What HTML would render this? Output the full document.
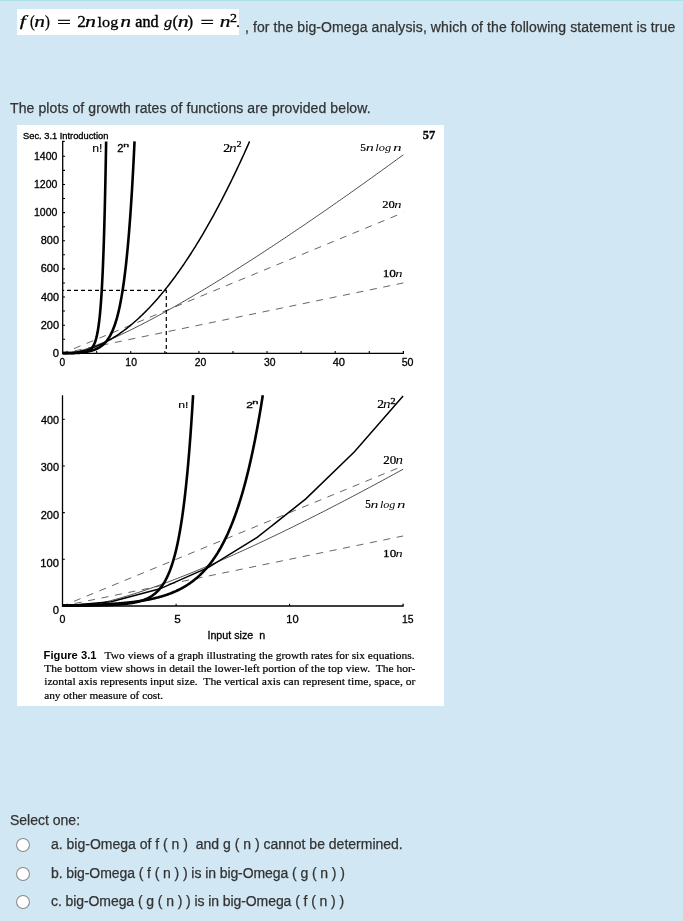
<!DOCTYPE html>
<html><head><meta charset="utf-8"><style>
html,body{margin:0;padding:0}
body{width:683px;height:921px;position:relative;overflow:hidden;background:#d1e7f3;font-family:"Liberation Sans",sans-serif;font-size:14px;color:#333}
.topb{position:absolute;left:0;top:0;width:683px;height:1px;background:#ade1ea}
.t{position:absolute;white-space:pre;line-height:16px;-webkit-text-stroke:0.25px #333;will-change:transform}
.mbox{position:absolute;left:17px;top:9px;width:222px;height:25.5px;background:#fff}
.msvg{position:absolute;left:0;top:0;will-change:transform}
.msvg text{font-family:"Liberation Serif",serif;fill:#000;stroke:#000;stroke-width:0.3px}
.msvg .mi{font-style:italic;stroke-width:0.25px}
.msvg .mb{stroke:#000;stroke-width:0.45px}
.fig{position:absolute;left:17px;top:125px;width:427px;height:581px;background:#fff;will-change:transform}
.fig svg{position:absolute;left:0;top:0}
.dsh{fill:none;stroke:#555;stroke-width:0.9;stroke-dasharray:7.1 6.6;stroke-dashoffset:1.4}
.thin{fill:none;stroke:#333;stroke-width:0.9}
.med{fill:none;stroke:#000;stroke-width:1.5}
.thick{fill:none;stroke:#000;stroke-width:2.6}
.ax{fill:none;stroke:#000;stroke-width:1.3}
.tk{fill:none;stroke:#000;stroke-width:1.05}
.guide{fill:none;stroke:#000;stroke-width:1.2;stroke-dasharray:4 3}
.fig text{fill:#000}
.lb{font-family:"Liberation Sans",sans-serif;stroke:#000;stroke-width:0.3px}
.lt{stroke-width:0.12px}
.pg{font-family:"Liberation Serif",serif;font-weight:bold;stroke:#000;stroke-width:0.35px}
.ml{font-family:"Liberation Serif",serif;stroke:#000;stroke-width:0.25px}
.mi{font-style:italic;stroke-width:0}
.fg{font-family:"Liberation Sans",sans-serif;font-weight:bold}
.cap{font-family:"Liberation Serif",serif;font-size:10.8px;stroke:#000;stroke-width:0.2px}
.rad{position:absolute;left:0;top:832px}
.rad circle{fill:#fff;stroke:#8a8a8a;stroke-width:1.05}
</style></head><body>
<div class="topb"></div>
<div class="mbox"></div>
<svg class="msvg" width="260" height="40">
<text transform="translate(19.68 26.47) scale(1.449 1)" style="font-size:14.89px" class="mi">f</text>
<text transform="translate(30.03 27.11) scale(0.811 1)" style="font-size:17.56px" class="mr">(</text>
<text transform="translate(34.34 27.00) scale(1.361 1)" style="font-size:15.74px" class="mi">n</text>
<text transform="translate(44.96 27.11) scale(0.833 1)" style="font-size:17.56px" class="mr">)</text>
<text transform="translate(56.96 28.44) scale(1.518 1)" style="font-size:16.40px" class="mr">=</text>
<text transform="translate(77.31 27.00) scale(1.010 1)" style="font-size:17.08px" class="mr">2</text>
<text transform="translate(84.92 27.00) scale(1.391 1)" style="font-size:15.74px" class="mi">n</text>
<text transform="translate(97.58 26.56) scale(1.050 1)" style="font-size:15.44px" class="mr">log</text>
<text transform="translate(120.13 27.00) scale(1.376 1)" style="font-size:15.74px" class="mi">n</text>
<text transform="translate(135.26 26.84) scale(0.977 1)" style="font-size:16.43px" class="mr mb">and</text>
<text transform="translate(164.00 26.62) scale(1.082 1)" style="font-size:15.15px" class="mi">g</text>
<text transform="translate(172.42 27.11) scale(0.964 1)" style="font-size:17.56px" class="mr">(</text>
<text transform="translate(177.72 27.00) scale(1.391 1)" style="font-size:15.74px" class="mi">n</text>
<text transform="translate(187.59 27.11) scale(0.964 1)" style="font-size:17.56px" class="mr">)</text>
<text transform="translate(200.50 28.44) scale(1.466 1)" style="font-size:16.40px" class="mr">=</text>
<text transform="translate(219.74 27.00) scale(1.325 1)" style="font-size:16.17px" class="mi">n</text>
<text transform="translate(229.94 21.80) scale(1.182 1)" style="font-size:11.85px" class="mr">2</text>
<text transform="translate(236.28 26.86) scale(1.027 1)" style="font-size:14.17px" class="mr">.</text>
</svg>
<div class="t" style="left:245px;top:19px;letter-spacing:0.1px">, for the big-Omega analysis, which of the following statement is true</div>
<div class="t" style="left:10px;top:100px;letter-spacing:0.1px">The plots of growth rates of functions are provided below.</div>
<div class="fig"><svg width="427" height="581" viewBox="17 125 427 581">
<path d="M62.6 353.3 L232.97 282.95 L403.35 212.6" class="dsh"/>
<path d="M62.6 353.3 L232.97 318.12 L403.35 282.95" class="dsh"/>
<path d="M69.42 353.3 L71.08 353.02 L72.75 352.7 L74.42 352.33 L76.09 351.93 L77.76 351.49 L79.43 351.03 L81.1 350.55 L82.77 350.04 L84.44 349.51 L86.11 348.96 L87.78 348.4 L89.45 347.82 L91.12 347.22 L92.79 346.61 L94.46 345.98 L96.13 345.34 L97.8 344.69 L99.47 344.03 L101.14 343.36 L102.81 342.67 L104.48 341.98 L106.15 341.27 L107.82 340.56 L109.49 339.83 L111.16 339.1 L112.83 338.36 L114.5 337.61 L116.17 336.85 L117.84 336.09 L119.51 335.31 L121.17 334.53 L122.84 333.75 L124.51 332.95 L126.18 332.15 L127.85 331.35 L129.52 330.53 L131.19 329.71 L132.86 328.89 L134.53 328.05 L136.2 327.22 L137.87 326.37 L139.54 325.53 L141.21 324.67 L142.88 323.81 L144.55 322.95 L146.22 322.08 L147.89 321.2 L149.56 320.32 L151.23 319.44 L152.9 318.55 L154.57 317.66 L156.24 316.76 L157.91 315.86 L159.58 314.95 L161.25 314.04 L162.92 313.12 L164.59 312.2 L166.26 311.28 L167.93 310.35 L169.6 309.42 L171.27 308.49 L172.93 307.55 L174.6 306.6 L176.27 305.66 L177.94 304.71 L179.61 303.75 L181.28 302.8 L182.95 301.84 L184.62 300.87 L186.29 299.9 L187.96 298.93 L189.63 297.96 L191.3 296.98 L192.97 296 L194.64 295.02 L196.31 294.03 L197.98 293.04 L199.65 292.04 L201.32 291.05 L202.99 290.05 L204.66 289.05 L206.33 288.04 L208 287.03 L209.67 286.02 L211.34 285.01 L213.01 283.99 L214.68 282.97 L216.35 281.95 L218.02 280.92 L219.69 279.9 L221.36 278.87 L223.03 277.83 L224.69 276.8 L226.36 275.76 L228.03 274.72 L229.7 273.68 L231.37 272.63 L233.04 271.58 L234.71 270.53 L236.38 269.48 L238.05 268.43 L239.72 267.37 L241.39 266.31 L243.06 265.25 L244.73 264.18 L246.4 263.11 L248.07 262.05 L249.74 260.97 L251.41 259.9 L253.08 258.82 L254.75 257.75 L256.42 256.67 L258.09 255.58 L259.76 254.5 L261.43 253.41 L263.1 252.33 L264.77 251.23 L266.44 250.14 L268.11 249.05 L269.78 247.95 L271.45 246.85 L273.12 245.75 L274.79 244.65 L276.45 243.54 L278.12 242.44 L279.79 241.33 L281.46 240.22 L283.13 239.11 L284.8 237.99 L286.47 236.88 L288.14 235.76 L289.81 234.64 L291.48 233.52 L293.15 232.39 L294.82 231.27 L296.49 230.14 L298.16 229.01 L299.83 227.88 L301.5 226.75 L303.17 225.62 L304.84 224.48 L306.51 223.34 L308.18 222.2 L309.85 221.06 L311.52 219.92 L313.19 218.78 L314.86 217.63 L316.53 216.48 L318.2 215.33 L319.87 214.18 L321.54 213.03 L323.21 211.88 L324.88 210.72 L326.54 209.56 L328.21 208.41 L329.88 207.25 L331.55 206.08 L333.22 204.92 L334.89 203.76 L336.56 202.59 L338.23 201.42 L339.9 200.25 L341.57 199.08 L343.24 197.91 L344.91 196.73 L346.58 195.56 L348.25 194.38 L349.92 193.2 L351.59 192.02 L353.26 190.84 L354.93 189.66 L356.6 188.48 L358.27 187.29 L359.94 186.1 L361.61 184.92 L363.28 183.73 L364.95 182.53 L366.62 181.34 L368.29 180.15 L369.96 178.95 L371.63 177.76 L373.3 176.56 L374.97 175.36 L376.64 174.16 L378.3 172.96 L379.97 171.76 L381.64 170.55 L383.31 169.34 L384.98 168.14 L386.65 166.93 L388.32 165.72 L389.99 164.51 L391.66 163.3 L393.33 162.08 L395 160.87 L396.67 159.65 L398.34 158.44 L400.01 157.22 L401.68 156 L403.35 154.78" class="thin"/>
<path d="M62.6 353.3 L63.74 353.29 L64.87 353.27 L66.01 353.23 L67.14 353.17 L68.28 353.1 L69.42 353.02 L70.55 352.92 L71.69 352.8 L72.82 352.67 L73.96 352.52 L75.09 352.35 L76.23 352.17 L77.37 351.98 L78.5 351.77 L79.64 351.54 L80.77 351.3 L81.91 351.04 L83.05 350.77 L84.18 350.48 L85.32 350.17 L86.45 349.85 L87.59 349.52 L88.72 349.16 L89.86 348.8 L91 348.41 L92.13 348.02 L93.27 347.6 L94.4 347.17 L95.54 346.73 L96.68 346.26 L97.81 345.79 L98.95 345.3 L100.08 344.79 L101.22 344.26 L102.35 343.72 L103.49 343.17 L104.63 342.6 L105.76 342.01 L106.9 341.41 L108.03 340.79 L109.17 340.16 L110.31 339.51 L111.44 338.85 L112.58 338.17 L113.71 337.47 L114.85 336.76 L115.98 336.03 L117.12 335.29 L118.26 334.53 L119.39 333.76 L120.53 332.97 L121.66 332.16 L122.8 331.34 L123.94 330.51 L125.07 329.65 L126.21 328.79 L127.34 327.9 L128.48 327 L129.61 326.09 L130.75 325.16 L131.89 324.21 L133.02 323.25 L134.16 322.28 L135.29 321.28 L136.43 320.27 L137.56 319.25 L138.7 318.21 L139.84 317.16 L140.97 316.08 L142.11 315 L143.24 313.9 L144.38 312.78 L145.52 311.64 L146.65 310.5 L147.79 309.33 L148.92 308.15 L150.06 306.95 L151.19 305.74 L152.33 304.52 L153.47 303.27 L154.6 302.01 L155.74 300.74 L156.87 299.45 L158.01 298.15 L159.15 296.82 L160.28 295.49 L161.42 294.14 L162.55 292.77 L163.69 291.38 L164.83 289.99 L165.96 288.57 L167.1 287.14 L168.23 285.69 L169.37 284.23 L170.5 282.75 L171.64 281.26 L172.78 279.75 L173.91 278.23 L175.05 276.69 L176.18 275.13 L177.32 273.56 L178.46 271.98 L179.59 270.37 L180.73 268.75 L181.86 267.12 L183 265.47 L184.13 263.81 L185.27 262.13 L186.41 260.43 L187.54 258.72 L188.68 256.99 L189.81 255.25 L190.95 253.49 L192.09 251.71 L193.22 249.92 L194.36 248.12 L195.49 246.3 L196.63 244.46 L197.76 242.61 L198.9 240.74 L200.04 238.86 L201.17 236.96 L202.31 235.04 L203.44 233.11 L204.58 231.16 L205.72 229.2 L206.85 227.22 L207.99 225.23 L209.12 223.22 L210.26 221.2 L211.39 219.16 L212.53 217.1 L213.67 215.03 L214.8 212.94 L215.94 210.84 L217.07 208.72 L218.21 206.59 L219.34 204.44 L220.48 202.27 L221.62 200.09 L222.75 197.9 L223.89 195.68 L225.02 193.46 L226.16 191.21 L227.3 188.95 L228.43 186.68 L229.57 184.39 L230.7 182.08 L231.84 179.76 L232.97 177.43 L234.11 175.07 L235.25 172.7 L236.38 170.32 L237.52 167.92 L238.65 165.5 L239.79 163.07 L240.93 160.63 L242.06 158.16 L243.2 155.69 L244.33 153.19 L245.47 150.68 L246.61 148.16 L247.74 145.62 L248.88 143.06 L249.61 141.4" class="med"/>
<path d="M62.6 353.16 L63.17 353.15 L63.74 353.14 L64.3 353.13 L64.87 353.12 L65.44 353.11 L66.01 353.1 L66.58 353.09 L67.14 353.08 L67.71 353.06 L68.28 353.05 L68.85 353.03 L69.42 353.02 L69.98 353 L70.55 352.98 L71.12 352.97 L71.69 352.95 L72.25 352.92 L72.82 352.9 L73.39 352.88 L73.96 352.85 L74.53 352.83 L75.09 352.8 L75.66 352.77 L76.23 352.74 L76.8 352.7 L77.37 352.67 L77.93 352.63 L78.5 352.59 L79.07 352.55 L79.64 352.5 L80.21 352.46 L80.77 352.41 L81.34 352.35 L81.91 352.3 L82.48 352.24 L83.05 352.17 L83.61 352.11 L84.18 352.04 L84.75 351.96 L85.32 351.88 L85.88 351.8 L86.45 351.71 L87.02 351.61 L87.59 351.51 L88.16 351.41 L88.72 351.29 L89.29 351.18 L89.86 351.05 L90.43 350.91 L91 350.77 L91.56 350.62 L92.13 350.46 L92.7 350.3 L93.27 350.12 L93.84 349.93 L94.4 349.73 L94.97 349.51 L95.54 349.29 L96.11 349.05 L96.68 348.8 L97.24 348.53 L97.81 348.25 L98.38 347.95 L98.95 347.63 L99.51 347.29 L100.08 346.93 L100.65 346.55 L101.22 346.15 L101.79 345.73 L102.35 345.28 L102.92 344.8 L103.49 344.3 L104.06 343.76 L104.63 343.19 L105.19 342.59 L105.76 341.95 L106.33 341.28 L106.9 340.57 L107.47 339.81 L108.03 339.01 L108.6 338.16 L109.17 337.26 L109.74 336.3 L110.31 335.29 L110.87 334.22 L111.44 333.08 L112.01 331.88 L112.58 330.61 L113.14 329.26 L113.71 327.83 L114.28 326.32 L114.85 324.71 L115.42 323.01 L115.98 321.21 L116.55 319.3 L117.12 317.28 L117.69 315.14 L118.26 312.87 L118.82 310.47 L119.39 307.92 L119.96 305.22 L120.53 302.36 L121.1 299.33 L121.66 296.12 L122.23 292.72 L122.8 289.12 L123.37 285.3 L123.94 281.26 L124.5 276.98 L125.07 272.44 L125.64 267.63 L126.21 262.54 L126.77 257.14 L127.34 251.42 L127.91 245.36 L128.48 238.95 L129.05 232.15 L129.61 224.94 L130.18 217.31 L130.75 209.22 L131.32 200.66 L131.89 191.58 L132.45 181.96 L133.02 171.77 L133.59 160.98 L134.16 149.54 L134.54 141.4" class="thick"/>
<path d="M62.6 353.16 L63.03 353.16 L63.45 353.17 L63.88 353.17 L64.3 353.17 L64.73 353.17 L65.16 353.17 L65.58 353.18 L66.01 353.18 L66.43 353.17 L66.86 353.17 L67.29 353.17 L67.71 353.17 L68.14 353.17 L68.56 353.17 L68.99 353.16 L69.42 353.16 L69.84 353.16 L70.27 353.15 L70.69 353.15 L71.12 353.14 L71.54 353.13 L71.97 353.13 L72.4 353.12 L72.82 353.11 L73.25 353.1 L73.67 353.1 L74.1 353.08 L74.53 353.07 L74.95 353.06 L75.38 353.05 L75.8 353.03 L76.23 353.02 L76.66 353 L77.08 352.98 L77.51 352.96 L77.93 352.94 L78.36 352.92 L78.79 352.89 L79.21 352.86 L79.64 352.83 L80.06 352.8 L80.49 352.76 L80.92 352.72 L81.34 352.68 L81.77 352.63 L82.19 352.58 L82.62 352.52 L83.05 352.46 L83.47 352.39 L83.9 352.31 L84.32 352.23 L84.75 352.13 L85.17 352.03 L85.6 351.92 L86.03 351.8 L86.45 351.66 L86.88 351.51 L87.3 351.35 L87.73 351.17 L88.16 350.97 L88.58 350.74 L89.01 350.5 L89.43 350.23 L89.86 349.92 L90.29 349.59 L90.71 349.22 L91.14 348.8 L91.56 348.35 L91.99 347.84 L92.42 347.27 L92.84 346.64 L93.27 345.94 L93.69 345.15 L94.12 344.28 L94.55 343.3 L94.97 342.22 L95.4 341 L95.82 339.64 L96.25 338.12 L96.68 336.42 L97.1 334.51 L97.53 332.37 L97.95 329.98 L98.38 327.29 L98.8 324.27 L99.23 320.88 L99.66 317.08 L100.08 312.79 L100.51 307.98 L100.93 302.55 L101.36 296.45 L101.79 289.56 L102.21 281.8 L102.64 273.04 L103.06 263.16 L103.49 252 L103.92 239.38 L104.34 225.12 L104.77 208.99 L105.19 190.74 L105.62 170.07 L106.05 146.65 L106.13 141.4" class="thick"/>
<path d="M62.6 606 L232.85 535.98 L403.1 465.96" class="dsh"/>
<path d="M62.6 606 L232.85 570.99 L403.1 535.98" class="dsh"/>
<path d="M85.3 606 L86.89 605.76 L88.48 605.5 L90.07 605.22 L91.66 604.94 L93.25 604.64 L94.83 604.32 L96.42 604 L98.01 603.66 L99.6 603.32 L101.19 602.96 L102.78 602.6 L104.37 602.22 L105.96 601.84 L107.55 601.45 L109.13 601.04 L110.72 600.64 L112.31 600.22 L113.9 599.8 L115.49 599.36 L117.08 598.92 L118.67 598.48 L120.26 598.03 L121.85 597.57 L123.44 597.1 L125.03 596.63 L126.61 596.16 L128.2 595.67 L129.79 595.18 L131.38 594.69 L132.97 594.19 L134.56 593.68 L136.15 593.17 L137.74 592.66 L139.33 592.14 L140.91 591.61 L142.5 591.08 L144.09 590.55 L145.68 590.01 L147.27 589.47 L148.86 588.92 L150.45 588.37 L152.04 587.81 L153.63 587.25 L155.22 586.68 L156.81 586.11 L158.39 585.54 L159.98 584.96 L161.57 584.38 L163.16 583.8 L164.75 583.21 L166.34 582.62 L167.93 582.02 L169.52 581.42 L171.11 580.82 L172.69 580.21 L174.28 579.6 L175.87 578.99 L177.46 578.37 L179.05 577.76 L180.64 577.13 L182.23 576.51 L183.82 575.88 L185.41 575.25 L187 574.61 L188.58 573.97 L190.17 573.33 L191.76 572.69 L193.35 572.04 L194.94 571.39 L196.53 570.74 L198.12 570.08 L199.71 569.42 L201.3 568.76 L202.89 568.1 L204.47 567.43 L206.06 566.76 L207.65 566.09 L209.24 565.42 L210.83 564.74 L212.42 564.06 L214.01 563.38 L215.6 562.7 L217.19 562.01 L218.78 561.32 L220.36 560.63 L221.95 559.93 L223.54 559.24 L225.13 558.54 L226.72 557.84 L228.31 557.14 L229.9 556.43 L231.49 555.72 L233.08 555.01 L234.67 554.3 L236.25 553.59 L237.84 552.87 L239.43 552.15 L241.02 551.43 L242.61 550.71 L244.2 549.98 L245.79 549.26 L247.38 548.53 L248.97 547.8 L250.56 547.06 L252.14 546.33 L253.73 545.59 L255.32 544.85 L256.91 544.11 L258.5 543.37 L260.09 542.63 L261.68 541.88 L263.27 541.13 L264.86 540.38 L266.45 539.63 L268.04 538.87 L269.62 538.12 L271.21 537.36 L272.8 536.6 L274.39 535.84 L275.98 535.08 L277.57 534.31 L279.16 533.55 L280.75 532.78 L282.34 532.01 L283.93 531.24 L285.51 530.46 L287.1 529.69 L288.69 528.91 L290.28 528.13 L291.87 527.35 L293.46 526.57 L295.05 525.79 L296.64 525 L298.23 524.22 L299.81 523.43 L301.4 522.64 L302.99 521.85 L304.58 521.05 L306.17 520.26 L307.76 519.46 L309.35 518.67 L310.94 517.87 L312.53 517.07 L314.12 516.27 L315.7 515.46 L317.29 514.66 L318.88 513.85 L320.47 513.04 L322.06 512.23 L323.65 511.42 L325.24 510.61 L326.83 509.8 L328.42 508.98 L330.01 508.17 L331.6 507.35 L333.18 506.53 L334.77 505.71 L336.36 504.89 L337.95 504.06 L339.54 503.24 L341.13 502.41 L342.72 501.59 L344.31 500.76 L345.9 499.93 L347.49 499.1 L349.07 498.26 L350.66 497.43 L352.25 496.59 L353.84 495.76 L355.43 494.92 L357.02 494.08 L358.61 493.24 L360.2 492.4 L361.79 491.56 L363.38 490.71 L364.96 489.87 L366.55 489.02 L368.14 488.17 L369.73 487.32 L371.32 486.47 L372.91 485.62 L374.5 484.77 L376.09 483.91 L377.68 483.06 L379.26 482.2 L380.85 481.35 L382.44 480.49 L384.03 479.63 L385.62 478.77 L387.21 477.9 L388.8 477.04 L390.39 476.18 L391.98 475.31 L393.57 474.44 L395.16 473.58 L396.74 472.71 L398.33 471.84 L399.92 470.97 L401.51 470.09 L403.1 469.22" class="thin"/>
<path d="M62.6 606 L111.24 601.71 L159.89 588.85 L208.53 567.42 L257.17 537.41 L305.81 498.83 L354.46 451.67 L403.1 395.94" class="med"/>
<path d="M62.6 605.53 L63.17 605.53 L63.73 605.52 L64.3 605.51 L64.87 605.5 L65.44 605.49 L66 605.48 L66.57 605.47 L67.14 605.46 L67.71 605.45 L68.28 605.44 L68.84 605.44 L69.41 605.43 L69.98 605.42 L70.55 605.41 L71.11 605.39 L71.68 605.38 L72.25 605.37 L72.81 605.36 L73.38 605.35 L73.95 605.34 L74.52 605.33 L75.09 605.32 L75.65 605.3 L76.22 605.29 L76.79 605.28 L77.36 605.27 L77.92 605.25 L78.49 605.24 L79.06 605.23 L79.62 605.21 L80.19 605.2 L80.76 605.19 L81.33 605.17 L81.89 605.16 L82.46 605.14 L83.03 605.13 L83.6 605.11 L84.16 605.1 L84.73 605.08 L85.3 605.07 L85.87 605.05 L86.44 605.03 L87 605.02 L87.57 605 L88.14 604.98 L88.7 604.96 L89.27 604.95 L89.84 604.93 L90.41 604.91 L90.97 604.89 L91.54 604.87 L92.11 604.85 L92.68 604.83 L93.25 604.81 L93.81 604.79 L94.38 604.77 L94.95 604.75 L95.52 604.72 L96.08 604.7 L96.65 604.68 L97.22 604.66 L97.78 604.63 L98.35 604.61 L98.92 604.58 L99.49 604.56 L100.06 604.54 L100.62 604.51 L101.19 604.48 L101.76 604.46 L102.33 604.43 L102.89 604.4 L103.46 604.37 L104.03 604.35 L104.59 604.32 L105.16 604.29 L105.73 604.26 L106.3 604.23 L106.87 604.2 L107.43 604.16 L108 604.13 L108.57 604.1 L109.13 604.07 L109.7 604.03 L110.27 604 L110.84 603.96 L111.41 603.93 L111.97 603.89 L112.54 603.86 L113.11 603.82 L113.67 603.78 L114.24 603.74 L114.81 603.7 L115.38 603.66 L115.94 603.62 L116.51 603.58 L117.08 603.54 L117.65 603.49 L118.22 603.45 L118.78 603.4 L119.35 603.36 L119.92 603.31 L120.48 603.27 L121.05 603.22 L121.62 603.17 L122.19 603.12 L122.75 603.07 L123.32 603.02 L123.89 602.97 L124.46 602.91 L125.03 602.86 L125.59 602.8 L126.16 602.75 L126.73 602.69 L127.29 602.63 L127.86 602.58 L128.43 602.52 L129 602.45 L129.56 602.39 L130.13 602.33 L130.7 602.27 L131.27 602.2 L131.84 602.13 L132.4 602.07 L132.97 602 L133.54 601.93 L134.1 601.86 L134.67 601.78 L135.24 601.71 L135.81 601.64 L136.38 601.56 L136.94 601.48 L137.51 601.4 L138.08 601.32 L138.65 601.24 L139.21 601.16 L139.78 601.07 L140.35 600.99 L140.91 600.9 L141.48 600.81 L142.05 600.72 L142.62 600.63 L143.19 600.53 L143.75 600.44 L144.32 600.34 L144.89 600.24 L145.45 600.14 L146.02 600.04 L146.59 599.93 L147.16 599.83 L147.72 599.72 L148.29 599.61 L148.86 599.5 L149.43 599.38 L150 599.27 L150.56 599.15 L151.13 599.03 L151.7 598.91 L152.27 598.79 L152.83 598.66 L153.4 598.53 L153.97 598.4 L154.53 598.27 L155.1 598.13 L155.67 598 L156.24 597.86 L156.81 597.71 L157.37 597.57 L157.94 597.42 L158.51 597.27 L159.07 597.12 L159.64 596.96 L160.21 596.8 L160.78 596.64 L161.34 596.48 L161.91 596.31 L162.48 596.14 L163.05 595.97 L163.62 595.8 L164.18 595.62 L164.75 595.44 L165.32 595.25 L165.88 595.07 L166.45 594.87 L167.02 594.68 L167.59 594.48 L168.16 594.28 L168.72 594.08 L169.29 593.87 L169.86 593.65 L170.43 593.44 L170.99 593.22 L171.56 593 L172.13 592.77 L172.69 592.54 L173.26 592.3 L173.83 592.06 L174.4 591.82 L174.97 591.57 L175.53 591.32 L176.1 591.06 L176.67 590.8 L177.23 590.54 L177.8 590.27 L178.37 589.99 L178.94 589.71 L179.5 589.43 L180.07 589.14 L180.64 588.84 L181.21 588.54 L181.78 588.24 L182.34 587.93 L182.91 587.61 L183.48 587.29 L184.04 586.96 L184.61 586.63 L185.18 586.29 L185.75 585.95 L186.31 585.59 L186.88 585.24 L187.45 584.88 L188.02 584.51 L188.58 584.13 L189.15 583.75 L189.72 583.36 L190.29 582.96 L190.85 582.56 L191.42 582.15 L191.99 581.73 L192.56 581.31 L193.12 580.88 L193.69 580.44 L194.26 579.99 L194.83 579.54 L195.39 579.07 L195.96 578.6 L196.53 578.13 L197.1 577.64 L197.66 577.14 L198.23 576.64 L198.8 576.12 L199.37 575.6 L199.93 575.07 L200.5 574.53 L201.07 573.98 L201.64 573.42 L202.2 572.85 L202.77 572.27 L203.34 571.68 L203.91 571.08 L204.47 570.47 L205.04 569.85 L205.61 569.22 L206.18 568.58 L206.74 567.92 L207.31 567.26 L207.88 566.58 L208.45 565.89 L209.01 565.19 L209.58 564.48 L210.15 563.75 L210.72 563.01 L211.28 562.26 L211.85 561.5 L212.42 560.72 L212.99 559.93 L213.56 559.12 L214.12 558.3 L214.69 557.47 L215.26 556.62 L215.82 555.76 L216.39 554.88 L216.96 553.98 L217.53 553.08 L218.09 552.15 L218.66 551.21 L219.23 550.25 L219.8 549.28 L220.36 548.28 L220.93 547.28 L221.5 546.25 L222.07 545.21 L222.63 544.14 L223.2 543.06 L223.77 541.96 L224.34 540.84 L224.91 539.7 L225.47 538.54 L226.04 537.36 L226.61 536.17 L227.17 534.94 L227.74 533.7 L228.31 532.44 L228.88 531.15 L229.44 529.84 L230.01 528.51 L230.58 527.16 L231.15 525.78 L231.72 524.38 L232.28 522.95 L232.85 521.5 L233.42 520.02 L233.98 518.52 L234.55 516.99 L235.12 515.44 L235.69 513.85 L236.25 512.24 L236.82 510.6 L237.39 508.94 L237.96 507.24 L238.52 505.51 L239.09 503.76 L239.66 501.97 L240.23 500.15 L240.79 498.3 L241.36 496.42 L241.93 494.5 L242.5 492.55 L243.06 490.57 L243.63 488.55 L244.2 486.5 L244.77 484.41 L245.34 482.29 L245.9 480.12 L246.47 477.92 L247.04 475.68 L247.6 473.41 L248.17 471.09 L248.74 468.73 L249.31 466.33 L249.88 463.89 L250.44 461.4 L251.01 458.88 L251.58 456.31 L252.14 453.69 L252.71 451.03 L253.28 448.32 L253.85 445.56 L254.41 442.76 L254.98 439.9 L255.55 437 L256.12 434.05 L256.69 431.04 L257.25 427.98 L257.82 424.87 L258.39 421.7 L258.95 418.48 L259.52 415.21 L260.09 411.87 L260.66 408.48 L261.23 405.02 L261.79 401.51 L262.36 397.94 L262.79 395.2" class="thick"/>
<path d="M62.6 605.53 L63.03 605.54 L63.45 605.54 L63.88 605.55 L64.3 605.55 L64.73 605.55 L65.15 605.56 L65.58 605.56 L66 605.56 L66.43 605.57 L66.86 605.57 L67.28 605.57 L67.71 605.57 L68.13 605.58 L68.56 605.58 L68.98 605.58 L69.41 605.58 L69.84 605.58 L70.26 605.58 L70.69 605.58 L71.11 605.59 L71.54 605.59 L71.96 605.59 L72.39 605.59 L72.81 605.59 L73.24 605.59 L73.67 605.59 L74.09 605.59 L74.52 605.59 L74.94 605.59 L75.37 605.58 L75.79 605.58 L76.22 605.58 L76.65 605.58 L77.07 605.58 L77.5 605.58 L77.92 605.58 L78.35 605.58 L78.77 605.57 L79.2 605.57 L79.62 605.57 L80.05 605.57 L80.48 605.57 L80.9 605.56 L81.33 605.56 L81.75 605.56 L82.18 605.56 L82.6 605.55 L83.03 605.55 L83.46 605.55 L83.88 605.54 L84.31 605.54 L84.73 605.54 L85.16 605.53 L85.58 605.53 L86.01 605.53 L86.44 605.52 L86.86 605.52 L87.29 605.51 L87.71 605.51 L88.14 605.51 L88.56 605.5 L88.99 605.5 L89.41 605.49 L89.84 605.49 L90.27 605.48 L90.69 605.47 L91.12 605.47 L91.54 605.46 L91.97 605.46 L92.39 605.45 L92.82 605.44 L93.25 605.44 L93.67 605.43 L94.1 605.42 L94.52 605.42 L94.95 605.41 L95.37 605.4 L95.8 605.4 L96.22 605.39 L96.65 605.38 L97.08 605.37 L97.5 605.36 L97.93 605.35 L98.35 605.34 L98.78 605.34 L99.2 605.33 L99.63 605.32 L100.06 605.31 L100.48 605.3 L100.91 605.29 L101.33 605.28 L101.76 605.26 L102.18 605.25 L102.61 605.24 L103.03 605.23 L103.46 605.22 L103.89 605.2 L104.31 605.19 L104.74 605.18 L105.16 605.17 L105.59 605.15 L106.01 605.14 L106.44 605.12 L106.87 605.11 L107.29 605.09 L107.72 605.08 L108.14 605.06 L108.57 605.04 L108.99 605.03 L109.42 605.01 L109.84 604.99 L110.27 604.97 L110.7 604.96 L111.12 604.94 L111.55 604.92 L111.97 604.9 L112.4 604.88 L112.82 604.85 L113.25 604.83 L113.67 604.81 L114.1 604.79 L114.53 604.76 L114.95 604.74 L115.38 604.71 L115.8 604.69 L116.23 604.66 L116.65 604.64 L117.08 604.61 L117.51 604.58 L117.93 604.55 L118.36 604.52 L118.78 604.49 L119.21 604.46 L119.63 604.43 L120.06 604.39 L120.48 604.36 L120.91 604.33 L121.34 604.29 L121.76 604.25 L122.19 604.21 L122.61 604.18 L123.04 604.14 L123.46 604.1 L123.89 604.05 L124.32 604.01 L124.74 603.97 L125.17 603.92 L125.59 603.87 L126.02 603.83 L126.44 603.78 L126.87 603.72 L127.29 603.67 L127.72 603.62 L128.15 603.56 L128.57 603.51 L129 603.45 L129.42 603.39 L129.85 603.33 L130.27 603.26 L130.7 603.2 L131.13 603.13 L131.55 603.06 L131.98 602.99 L132.4 602.92 L132.83 602.85 L133.25 602.77 L133.68 602.69 L134.1 602.61 L134.53 602.52 L134.96 602.44 L135.38 602.35 L135.81 602.26 L136.23 602.16 L136.66 602.07 L137.08 601.97 L137.51 601.87 L137.94 601.76 L138.36 601.65 L138.79 601.54 L139.21 601.43 L139.64 601.31 L140.06 601.19 L140.49 601.06 L140.91 600.93 L141.34 600.8 L141.77 600.66 L142.19 600.52 L142.62 600.38 L143.04 600.23 L143.47 600.08 L143.89 599.92 L144.32 599.75 L144.75 599.59 L145.17 599.41 L145.6 599.23 L146.02 599.05 L146.45 598.86 L146.87 598.67 L147.3 598.46 L147.72 598.26 L148.15 598.04 L148.58 597.82 L149 597.6 L149.43 597.36 L149.85 597.12 L150.28 596.87 L150.7 596.62 L151.13 596.35 L151.56 596.08 L151.98 595.8 L152.41 595.51 L152.83 595.21 L153.26 594.9 L153.68 594.58 L154.11 594.26 L154.53 593.92 L154.96 593.57 L155.39 593.21 L155.81 592.84 L156.24 592.45 L156.66 592.06 L157.09 591.65 L157.51 591.23 L157.94 590.79 L158.37 590.34 L158.79 589.88 L159.22 589.4 L159.64 588.91 L160.07 588.4 L160.49 587.87 L160.92 587.33 L161.34 586.77 L161.77 586.19 L162.2 585.59 L162.62 584.97 L163.05 584.34 L163.47 583.68 L163.9 583 L164.32 582.29 L164.75 581.57 L165.18 580.82 L165.6 580.04 L166.03 579.24 L166.45 578.41 L166.88 577.56 L167.3 576.67 L167.73 575.76 L168.16 574.82 L168.58 573.84 L169.01 572.83 L169.43 571.79 L169.86 570.72 L170.28 569.6 L170.71 568.45 L171.13 567.26 L171.56 566.03 L171.99 564.76 L172.41 563.44 L172.84 562.08 L173.26 560.68 L173.69 559.22 L174.11 557.72 L174.54 556.16 L174.97 554.55 L175.39 552.89 L175.82 551.17 L176.24 549.38 L176.67 547.54 L177.09 545.63 L177.52 543.66 L177.94 541.62 L178.37 539.5 L178.8 537.32 L179.22 535.05 L179.65 532.71 L180.07 530.29 L180.5 527.78 L180.92 525.18 L181.35 522.49 L181.78 519.71 L182.2 516.82 L182.63 513.84 L183.05 510.75 L183.48 507.55 L183.9 504.24 L184.33 500.81 L184.75 497.26 L185.18 493.58 L185.61 489.77 L186.03 485.82 L186.46 481.73 L186.88 477.5 L187.31 473.11 L187.73 468.57 L188.16 463.86 L188.58 458.98 L189.01 453.93 L189.44 448.69 L189.86 443.26 L190.29 437.64 L190.71 431.81 L191.14 425.77 L191.56 419.51 L191.99 413.02 L192.42 406.3 L192.84 399.32 L193.09 395.2" class="thick"/>
<path d="M64.7 141.4 H62.7 V353.3 H403.35 V351.1" class="ax"/>
<path d="M62.7 339.23 h2.3 M62.7 325.16 h2.3 M62.7 311.09 h2.3 M62.7 297.02 h2.3 M62.7 282.95 h2.3 M62.7 268.88 h2.3 M62.7 254.81 h2.3 M62.7 240.74 h2.3 M62.7 226.67 h2.3 M62.7 212.6 h2.3 M62.7 198.53 h2.3 M62.7 184.46 h2.3 M62.7 170.39 h2.3 M62.7 156.32 h2.3 M96.68 353.3 v-2.3 M130.75 353.3 v-2.3 M164.83 353.3 v-2.3 M198.9 353.3 v-2.3 M232.97 353.3 v-2.3 M267.05 353.3 v-2.3 M301.12 353.3 v-2.3 M335.2 353.3 v-2.3 M369.28 353.3 v-2.3 " class="tk"/>
<path d="M62.5 395.2 V606 H403.1 V603.8" class="ax"/>
<path d="M62.5 559.32 h2.3 M62.5 512.64 h2.3 M62.5 465.96 h2.3 M62.5 419.28 h2.3 M176.1 606 v-2.3 M289.6 606 v-2.3 " class="tk"/>
<path d="M67 290.4 H166.3 V353" class="guide"/>
<path d="M62.6 290.4 h1.6" class="tk"/>
<text transform="translate(23.03 138.7) scale(1.078 1)" style="font-size:8.63px" class="lb">Sec. 3.1 Introduction</text>
<text transform="translate(422.7 138.7) scale(0.930 1)" style="font-size:13.38px" class="pg">57</text>
<text transform="translate(52.85 356.6) scale(1.079 1)" style="font-size:10.43px" class="lb">0</text>
<text transform="translate(40.65 328.76) scale(1.071 1)" style="font-size:10.29px" class="lb">200</text>
<text transform="translate(40.98 300.62) scale(1.051 1)" style="font-size:10.29px" class="lb">400</text>
<text transform="translate(40.65 272.48) scale(1.071 1)" style="font-size:10.29px" class="lb">600</text>
<text transform="translate(40.76 244.34) scale(1.064 1)" style="font-size:10.29px" class="lb">800</text>
<text transform="translate(33.96 216.2) scale(1.023 1)" style="font-size:10.29px" class="lb">1000</text>
<text transform="translate(33.96 188.06) scale(1.023 1)" style="font-size:10.29px" class="lb">1200</text>
<text transform="translate(33.96 159.92) scale(1.023 1)" style="font-size:10.29px" class="lb">1400</text>
<text transform="translate(40.3 567) scale(1.076 1)" style="font-size:10.43px" class="lb">100</text>
<text transform="translate(40.65 518.7) scale(1.056 1)" style="font-size:10.43px" class="lb">200</text>
<text transform="translate(40.76 470.5) scale(1.049 1)" style="font-size:10.43px" class="lb">300</text>
<text transform="translate(40.98 423.8) scale(1.036 1)" style="font-size:10.43px" class="lb">400</text>
<text transform="translate(52.85 613.7) scale(1.036 1)" style="font-size:10.86px" class="lb">0</text>
<text transform="translate(59.59 365.9) scale(0.953 1)" style="font-size:10.71px" class="lb">0</text>
<text transform="translate(125.37 365.9) scale(0.971 1)" style="font-size:10.71px" class="lb">10</text>
<text transform="translate(194.68 365.9) scale(0.970 1)" style="font-size:10.71px" class="lb">20</text>
<text transform="translate(263.88 365.9) scale(0.970 1)" style="font-size:10.71px" class="lb">30</text>
<text transform="translate(332.68 365.9) scale(1.040 1)" style="font-size:10.71px" class="lb">40</text>
<text transform="translate(401.67 365.9) scale(0.997 1)" style="font-size:10.71px" class="lb">50</text>
<text transform="translate(59.58 622.9) scale(0.992 1)" style="font-size:10.71px" class="lb">0</text>
<text transform="translate(174.33 622.9) scale(1.077 1)" style="font-size:10.87px" class="lb">5</text>
<text transform="translate(286.21 622.9) scale(1.037 1)" style="font-size:10.71px" class="lb">10</text>
<text transform="translate(402.07 622.9) scale(0.957 1)" style="font-size:10.87px" class="lb">15</text>
<text transform="translate(207.43 638.7) scale(1.030 1)" style="font-size:10.41px" class="lb">Input size&#160;&#160;n</text>
<text transform="translate(92.24 151.8) scale(1.069 1)" style="font-size:11.45px" class="lb lt">n!</text>
<text transform="translate(117.15 151.8) scale(1.035 1)" style="font-size:10.71px" class="lb">2</text>
<text transform="translate(123.37 147.2) scale(1.825 1)" style="font-size:5.74px" class="lb">n</text>
<text transform="translate(178.14 407.9) scale(1.280 1)" style="font-size:9.57px" class="lb lt">n!</text>
<text transform="translate(246.3 407.9) scale(1.268 1)" style="font-size:9.43px" class="lb">2</text>
<text transform="translate(252.22 404.2) scale(1.888 1)" style="font-size:5.93px" class="lb">n</text>
<text transform="translate(223.25 151.8) scale(1.139 1)" style="font-size:12.15px" class="ml">2</text>
<text transform="translate(229.02 151.8) scale(1.272 1)" style="font-size:12.1px" class="ml mi">n</text>
<text transform="translate(236.59 146.8) scale(1.211 1)" style="font-size:8.46px" class="ml">2</text>
<text transform="translate(377.36 408.1) scale(1.106 1)" style="font-size:12.31px" class="ml">2</text>
<text transform="translate(383.04 408.1) scale(1.235 1)" style="font-size:12.26px" class="ml mi">n</text>
<text transform="translate(390.26 403.9) scale(1.254 1)" style="font-size:8.77px" class="ml">2</text>
<text transform="translate(382.3 207.7) scale(1.106 1)" style="font-size:11.38px" class="ml">20</text>
<text transform="translate(394.2 207.7) scale(1.285 1)" style="font-size:11.34px" class="ml mi">n</text>
<text transform="translate(382.7 276.8) scale(1.238 1)" style="font-size:10.76px" class="ml">10</text>
<text transform="translate(395.3 276.8) scale(1.339 1)" style="font-size:10.88px" class="ml mi">n</text>
<text transform="translate(383.18 463.7) scale(1.127 1)" style="font-size:11.54px" class="ml">20</text>
<text transform="translate(395.46 463.7) scale(1.312 1)" style="font-size:11.49px" class="ml mi">n</text>
<text transform="translate(383.12 556.6) scale(1.168 1)" style="font-size:11.21px" class="ml">10</text>
<text transform="translate(395.52 556.6) scale(1.262 1)" style="font-size:11.34px" class="ml mi">n</text>
<text transform="translate(360.32 151.3) scale(1.045 1)" style="font-size:10.77px" class="ml">5</text>
<text transform="translate(365.65 151.3) scale(1.463 1)" style="font-size:11.06px" class="ml mi">n</text>
<text transform="translate(375.28 151.3) scale(1.174 1)" style="font-size:10.58px" class="ml mi">log</text>
<text transform="translate(392.9 151.3) scale(1.571 1)" style="font-size:11.06px" class="ml mi">n</text>
<text transform="translate(365.34 507.6) scale(0.951 1)" style="font-size:11.54px" class="ml">5</text>
<text transform="translate(370.54 507.6) scale(1.427 1)" style="font-size:11.06px" class="ml mi">n</text>
<text transform="translate(379.92 507.6) scale(1.071 1)" style="font-size:11.3px" class="ml mi">log</text>
<text transform="translate(397.11 507.6) scale(1.532 1)" style="font-size:11.06px" class="ml mi">n</text>
<text transform="translate(43.62 658.5) scale(1.104 1)" style="font-size:10.14px" class="fg">Figure 3.1</text>
<text x="104.6" y="658.5" textLength="310" lengthAdjust="spacingAndGlyphs" class="cap">Two views of a graph illustrating the growth rates for six equations.</text>
<text x="44.2" y="672.2" textLength="371.2" lengthAdjust="spacingAndGlyphs" class="cap">The bottom view shows in detail the lower-left portion of the top view.&#160; The hor-</text>
<text x="44.2" y="685.4" textLength="371.2" lengthAdjust="spacingAndGlyphs" class="cap">izontal axis represents input size.&#160; The vertical axis can represent time, space, or</text>
<text x="44.2" y="699.4" textLength="119" lengthAdjust="spacingAndGlyphs" class="cap">any other measure of cost.</text>
</svg></div>
<div class="t" style="left:10px;top:812px">Select one:</div>
<svg class="rad" width="40" height="90" viewBox="0 832 40 90">
<circle cx="23" cy="845" r="6.45"/><circle cx="23" cy="874" r="6.45"/><circle cx="23" cy="902" r="6.45"/>
</svg>
<div class="t" style="left:51px;top:836px">a. big-Omega of f ( n )&#160; and g ( n ) cannot be determined.</div>
<div class="t" style="left:51px;top:865px;letter-spacing:-0.08px">b. big-Omega ( f ( n ) ) is in big-Omega ( g ( n ) )</div>
<div class="t" style="left:51px;top:893px;letter-spacing:-0.08px">c. big-Omega ( g ( n ) ) is in big-Omega ( f ( n ) )</div>
</body></html>
